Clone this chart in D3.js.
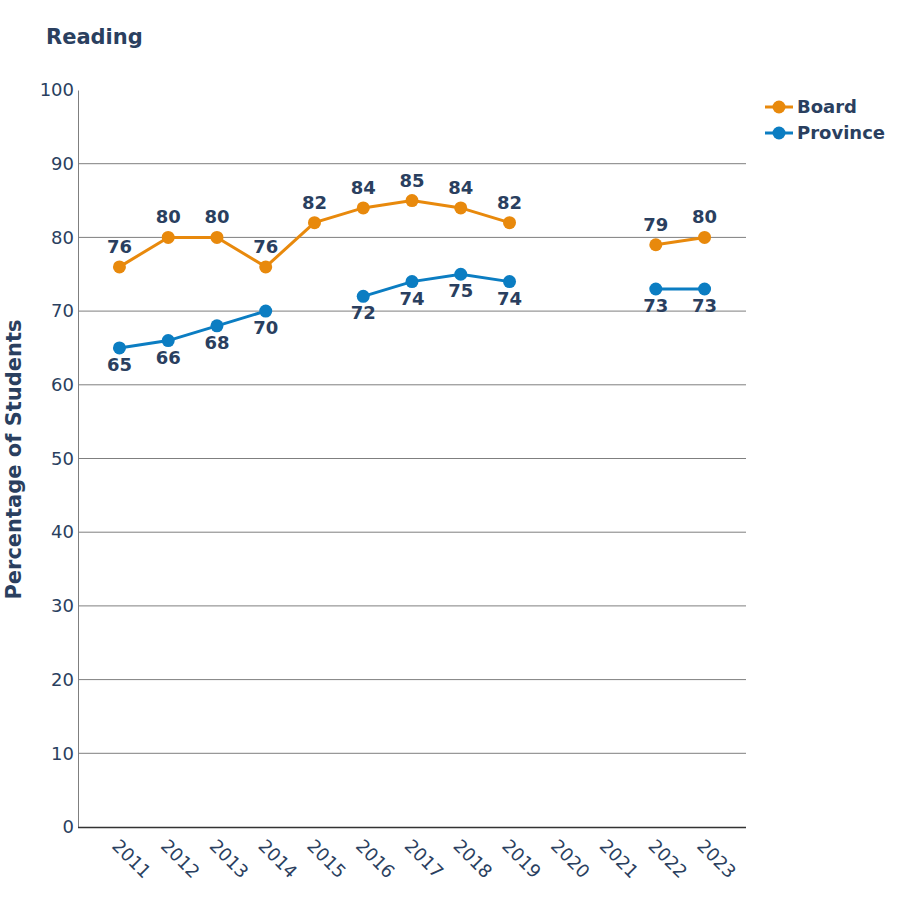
<!DOCTYPE html>
<html>
<head>
<meta charset="utf-8">
<script src="https://cdn.jsdelivr.net/npm/d3@7"></script>
<style>
    body { margin: 0; background: #fff; }
    svg { font-family: Verdana, "DejaVu Sans", sans-serif; }
</style>
</head>
<body>
<div id="vis-container"></div>
<script>
// Chart data
const years = ["2011", "2012", "2013", "2014", "2015", "2016", "2017", "2018", "2019", "2020", "2021", "2022", "2023"];
const boardValues = [76, 80, 80, 76, 82, 84, 85, 84, 82, null, null, 79, 80];
const provinceValues = [65, 66, 68, 70, null, 72, 74, 75, 74, null, null, 73, 73];
const yTicks = [0, 10, 20, 30, 40, 50, 60, 70, 80, 90, 100];

const textColor = "#2a3f5f";
const boardColor = "#e8890c";
const provinceColor = "#0b7dc2";

function main()
{
    const width = 900, height = 900;
    const plot = { left: 78, right: 746, top: 90, bottom: 827 };

    const svg = d3.select("#vis-container")
        .append("svg")
        .attr("width", width)
        .attr("height", height);

    // Scales
    const xScale = d3.scalePoint()
        .domain(years)
        .range([plot.left, plot.right])
        .padding(0.85);

    const yScale = d3.scaleLinear()
        .domain([0, 100])
        .range([plot.bottom, plot.top]);

    // Gridlines
    svg.append("g")
        .selectAll("line")
        .data(yTicks.filter(t => t > 0 && t < 100))
        .enter()
        .append("line")
        .attr("x1", plot.left)
        .attr("x2", plot.right)
        .attr("y1", d => yScale(d))
        .attr("y2", d => yScale(d))
        .attr("stroke", "#7f7f7f")
        .attr("stroke-width", 1);

    // Y axis
    const yAxis = d3.axisLeft(yScale).tickValues(yTicks).tickSize(0).tickPadding(4);
    const yG = svg.append("g")
        .attr("transform", `translate(${plot.left},0)`)
        .call(yAxis);
    yG.select(".domain").attr("stroke", "#7f7f7f");
    yG.selectAll("text")
        .attr("fill", textColor)
        .style("font-size", "18px")
        .style("font-family", "Verdana, 'DejaVu Sans', sans-serif");

    // X axis
    const xAxis = d3.axisBottom(xScale).tickSize(0).tickSizeOuter(0);
    const xG = svg.append("g")
        .attr("transform", `translate(0,${plot.bottom})`)
        .call(xAxis);
    xG.select(".domain")
        .attr("d", `M${plot.left},0.5H${plot.right}`)
        .attr("stroke", "#333")
        .attr("stroke-width", 1.5);
    xG.selectAll("text")
        .attr("fill", textColor)
        .style("font-size", "18px")
        .style("font-family", "Verdana, 'DejaVu Sans', sans-serif")
        .attr("text-anchor", "start")
        .attr("dy", null)
        .attr("y", 0)
        .attr("transform", "translate(-9,20) rotate(45)");

    // Title
    svg.append("text")
        .attr("x", 46)
        .attr("y", 44)
        .attr("fill", textColor)
        .style("font-size", "21px")
        .style("font-weight", "bold")
        .text("Reading");

    // Y axis title
    svg.append("text")
        .attr("transform", `translate(21,${(plot.top + plot.bottom) / 2 + 1}) rotate(-90)`)
        .attr("text-anchor", "middle")
        .attr("fill", textColor)
        .style("font-size", "21px")
        .style("font-weight", "bold")
        .text("Percentage of Students");

    // Draw a series
    function drawSeries(values, color, labelAbove)
    {
        const points = values.map((v, i) => ({ year: years[i], value: v }));
        const line = d3.line()
            .defined(d => d.value !== null)
            .x(d => xScale(d.year))
            .y(d => yScale(d.value));

        svg.append("path")
            .datum(points)
            .attr("d", line)
            .attr("fill", "none")
            .attr("stroke", color)
            .attr("stroke-width", 3);

        const valid = points.filter(d => d.value !== null);

        svg.append("g")
            .selectAll("circle")
            .data(valid)
            .enter()
            .append("circle")
            .attr("cx", d => xScale(d.year))
            .attr("cy", d => yScale(d.value))
            .attr("r", 6.5)
            .attr("fill", color);

        svg.append("g")
            .selectAll("text")
            .data(valid)
            .enter()
            .append("text")
            .attr("x", d => xScale(d.year))
            .attr("y", d => yScale(d.value) + (labelAbove ? -14 : 23))
            .attr("text-anchor", "middle")
            .attr("fill", textColor)
            .style("font-size", "18px")
            .style("font-weight", "bold")
            .text(d => d.value);
    }

    drawSeries(boardValues, boardColor, true);
    drawSeries(provinceValues, provinceColor, false);

    // Legend
    const legendItems = [
        { name: "Board", color: boardColor },
        { name: "Province", color: provinceColor }
    ];
    const legend = svg.append("g")
        .selectAll("g")
        .data(legendItems)
        .enter()
        .append("g")
        .attr("transform", (_, i) => `translate(765,${107 + i * 26})`);
    legend.append("line")
        .attr("x1", 0).attr("x2", 28)
        .attr("stroke", d => d.color)
        .attr("stroke-width", 3);
    legend.append("circle")
        .attr("cx", 14)
        .attr("r", 6.5)
        .attr("fill", d => d.color);
    legend.append("text")
        .attr("x", 32)
        .attr("y", 6)
        .attr("fill", textColor)
        .style("font-size", "18px")
        .style("font-weight", "bold")
        .text(d => d.name);
}

document.addEventListener("DOMContentLoaded", main);
</script>
</body>
</html>
